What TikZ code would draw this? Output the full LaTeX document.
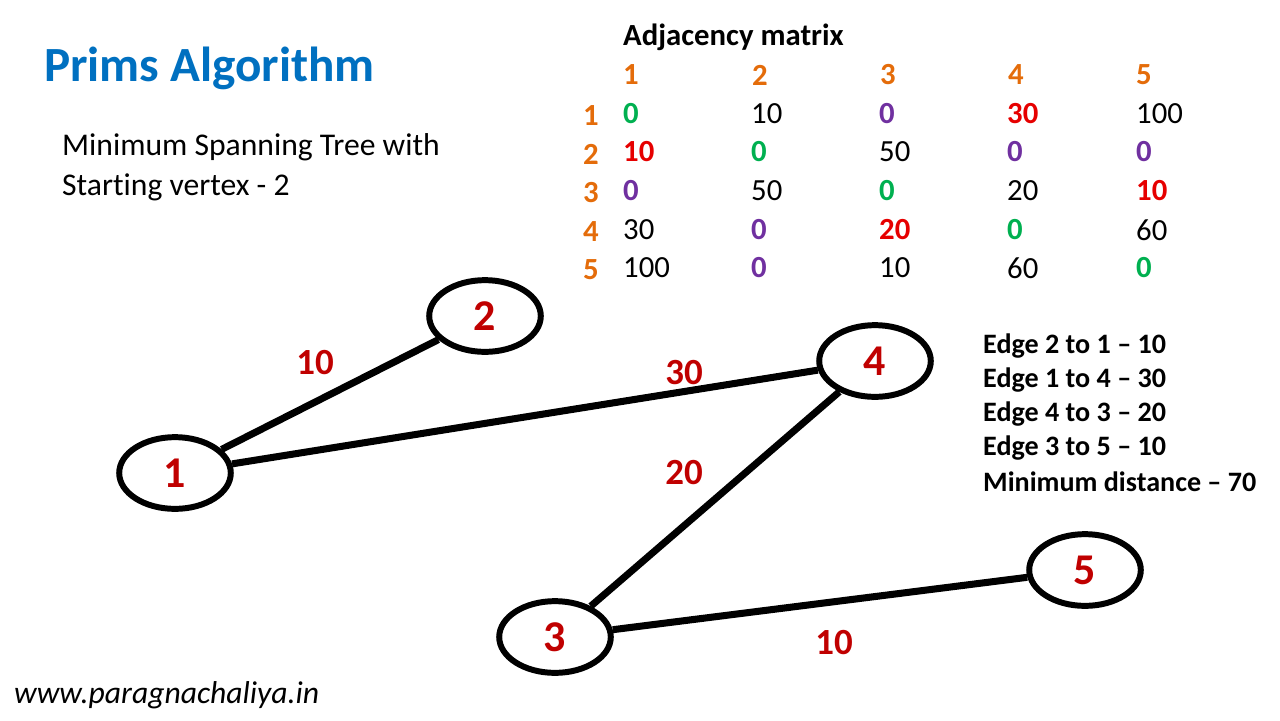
\documentclass[tikz,border=0pt]{standalone}
\usepackage{fontspec}
\setmainfont[Ligatures={NoCommon}]{Carlito}
\usetikzlibrary{shapes.geometric}
\definecolor{tblue}{RGB}{0,112,192}
\definecolor{torange}{RGB}{228,108,10}
\definecolor{tgreen}{RGB}{0,176,80}
\definecolor{tpurple}{RGB}{112,48,160}
\definecolor{tred}{RGB}{230,0,0}
\definecolor{dred}{RGB}{192,0,0}
\tikzset{
 vert/.style={ellipse,draw,line width=3.4pt,minimum width=112pt*0.567,minimum height=72pt*0.567,inner sep=0pt,font=\fontsize{25}{25}\selectfont\bfseries,text=dred},
 edge/.style={line width=4pt},
 elab/.style={font=\fontsize{21}{21}\selectfont\bfseries,text=dred},
 mt/.style={anchor=west,font=\fontsize{17.5}{17.5}\selectfont},
 hd/.style={mt,text=torange,font=\fontsize{17.5}{17.5}\selectfont\bfseries},
 g/.style={mt,text=tgreen,font=\fontsize{17.5}{17.5}\selectfont\bfseries},
 p/.style={mt,text=tpurple,font=\fontsize{17.5}{17.5}\selectfont\bfseries},
 r/.style={mt,text=tred,font=\fontsize{17.5}{17.5}\selectfont\bfseries},
 el/.style={anchor=west,font=\fontsize{16}{16}\selectfont\bfseries}
}
\begin{document}
\begin{tikzpicture}[x=0.02cm,y=-0.02cm]
\useasboundingbox (0,0) rectangle (1280,720);
\node[anchor=west,text=tblue,font=\fontsize{28}{28}\selectfont\bfseries] (title) at (38,68) {Prims Algorithm};
\node[anchor=west,font=\fontsize{18}{22.7}\selectfont,align=left] (sub) at (56,167) {Minimum Spanning Tree with\\Starting vertex - 2};
\node[anchor=west,font=\fontsize{17.5}{17.5}\selectfont\bfseries] (am) at (617,37) {Adjacency matrix};
% headers
\node[hd] (h1) at (617,75) {1}; \node[hd] (h2) at (746,75) {2}; \node[hd] (h3) at (874,75) {3}; \node[hd] (h4) at (1002,75) {4}; \node[hd] (h5) at (1130,75) {5};
\node[hd] (r1) at (577,116) {1}; \node[hd] (r2) at (577,154) {2}; \node[hd] (r3) at (577,193) {3}; \node[hd] (r4) at (577,232) {4}; \node[hd] (r5) at (577,270) {5};
\node[g] (a11) at (617,114) {0}; \node[mt] (a12) at (745,114) {10}; \node[p] (a13) at (873,114) {0}; \node[r] (a14) at (1001,114) {30}; \node[mt] (a15) at (1130,114) {100};
\node[r] (a21) at (617,152) {10}; \node[g] (a22) at (745,152) {0}; \node[mt] (a23) at (873,152) {50}; \node[p] (a24) at (1001,152) {0}; \node[p] (a25) at (1130,152) {0};
\node[p] (a31) at (617,191) {0}; \node[mt] (a32) at (745,191) {50}; \node[g] (a33) at (873,191) {0}; \node[mt] (a34) at (1001,191) {20}; \node[r] (a35) at (1130,191) {10};
\node[mt] (a41) at (617,230) {30}; \node[p] (a42) at (745,230) {0}; \node[r] (a43) at (873,230) {20}; \node[g] (a44) at (1001,230) {0}; \node[mt] (a45) at (1130,230) {60};
\node[mt] (a51) at (617,268) {100}; \node[p] (a52) at (745,268) {0}; \node[mt] (a53) at (873,268) {10}; \node[mt] (a54) at (1001,268) {60}; \node[g] (a55) at (1130,268) {0};
% graph
\node[vert] (n2) at (485,316) {2};
\node[vert] (n1) at (175,473) {1};
\node[vert] (n4) at (875,361) {4};
\node[vert] (n3) at (555,637) {3};
\node[vert] (n5) at (1085,570) {5};
\draw[edge] (n1) -- (n2);
\draw[edge] (n1) -- (n4);
\draw[edge] (n3) -- (n4);
\draw[edge] (n3) -- (n5);
\node[elab] (l1) at (315,363) {10};
\node[elab] (l2) at (684,373) {30};
\node[elab] (l3) at (684,473) {20};
\node[elab] (l4) at (834,643) {10};
% edge list
\node[el] (e1) at (977,346) {Edge 2 to 1 -- 10};
\node[el] (e2) at (977,380) {Edge 1 to 4 -- 30};
\node[el] (e3) at (977,414) {Edge 4 to 3 -- 20};
\node[el] (e4) at (977,448) {Edge 3 to 5 -- 10};
\node[el] (e5) at (977,482) {Minimum distance -- 70};
\node[anchor=west,font=\fontsize{18}{18}\selectfont\itshape] (url) at (8,695) {www.paragnachaliya.in};
\end{tikzpicture}
\end{document}
